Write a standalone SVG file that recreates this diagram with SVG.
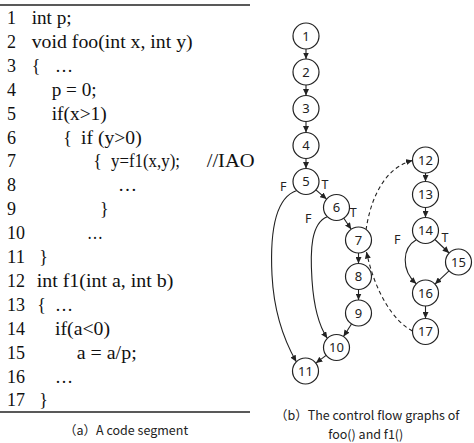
<svg xmlns="http://www.w3.org/2000/svg" width="474" height="443" viewBox="0 0 474 443">
<style>
.code{font-family:"Liberation Serif","Times New Roman",serif;font-size:18px;fill:#111}
.num{font-family:"Liberation Serif","Times New Roman",serif;font-size:18px;fill:#111}
.cap{font-family:"Noto Sans CJK SC","Noto Sans",sans-serif;font-size:12.5px;fill:#222}
.node circle{fill:#fff;stroke:#222;stroke-width:1.2}
.node text{font-family:"Noto Sans","Liberation Sans",sans-serif;font-size:13px;fill:#222;text-anchor:middle}
.lbl{font-family:"Noto Sans","Liberation Sans",sans-serif;font-size:12.5px;fill:#222;text-anchor:middle}
.e{fill:none;stroke:#222;stroke-width:1.1;marker-end:url(#ah)}
.d{stroke-dasharray:4 3}
.rule{stroke:#222;stroke-width:1.6}
</style>
<defs>
<marker id="ah" markerUnits="userSpaceOnUse" markerWidth="7" markerHeight="6" refX="6.5" refY="3" orient="auto">
<path d="M0,0 L6.5,3 L0,6 z" fill="#222"/>
</marker>
</defs>
<rect width="474" height="443" fill="#fff"/>

<g id="code">
<line class="rule" x1="0" y1="5" x2="250" y2="5"/>
<line class="rule" x1="0" y1="412" x2="250" y2="412"/>
<text class="num" x="7" y="24">1</text>
<text class="code" x="31.7" y="24" textLength="40" lengthAdjust="spacingAndGlyphs">int p;</text>
<text class="num" x="7" y="47.9">2</text>
<text class="code" x="31.7" y="47.9" textLength="161" lengthAdjust="spacingAndGlyphs">void foo(int x, int y)</text>
<text class="num" x="7" y="71.8">3</text>
<text class="code" x="31.7" y="71.8">{</text>
<text class="code" x="55" y="71.8" textLength="18" lengthAdjust="spacingAndGlyphs">…</text>
<text class="num" x="7" y="95.7">4</text>
<text class="code" x="51.7" y="95.7" textLength="45" lengthAdjust="spacingAndGlyphs">p = 0;</text>
<text class="num" x="7" y="119.6">5</text>
<text class="code" x="51.7" y="119.6" textLength="55" lengthAdjust="spacingAndGlyphs">if(x&gt;1)</text>
<text class="num" x="7" y="143.5">6</text>
<text class="code" x="63.3" y="143.5">{</text>
<text class="code" x="81" y="143.5" textLength="60.7" lengthAdjust="spacingAndGlyphs">if (y&gt;0)</text>
<text class="num" x="7" y="167.4">7</text>
<text class="code" x="93.3" y="167.4">{</text>
<text class="code" x="111" y="167.4" textLength="69" lengthAdjust="spacingAndGlyphs">y=f1(x,y);</text>
<text class="code" x="206.7" y="167.4" textLength="48" lengthAdjust="spacingAndGlyphs">//IAO</text>
<text class="num" x="7" y="191.3">8</text>
<text class="code" x="118" y="191.3" textLength="19" lengthAdjust="spacingAndGlyphs">…</text>
<text class="num" x="7" y="215.2">9</text>
<text class="code" x="100" y="215.2">}</text>
<text class="num" x="7" y="239.1" textLength="18" lengthAdjust="spacingAndGlyphs">10</text>
<text class="code" x="87" y="239.1" textLength="16" lengthAdjust="spacingAndGlyphs">…</text>
<text class="num" x="7" y="263" textLength="18" lengthAdjust="spacingAndGlyphs">11</text>
<text class="code" x="39.3" y="263">}</text>
<text class="num" x="7" y="286.9" textLength="18" lengthAdjust="spacingAndGlyphs">12</text>
<text class="code" x="36.7" y="286.9" textLength="136.6" lengthAdjust="spacingAndGlyphs">int f1(int a, int b)</text>
<text class="num" x="7" y="310.8" textLength="18" lengthAdjust="spacingAndGlyphs">13</text>
<text class="code" x="37.3" y="310.8">{</text>
<text class="code" x="55" y="310.8" textLength="18" lengthAdjust="spacingAndGlyphs">…</text>
<text class="num" x="7" y="334.7" textLength="18" lengthAdjust="spacingAndGlyphs">14</text>
<text class="code" x="55" y="334.7" textLength="55" lengthAdjust="spacingAndGlyphs">if(a&lt;0)</text>
<text class="num" x="7" y="358.6" textLength="18" lengthAdjust="spacingAndGlyphs">15</text>
<text class="code" x="76.7" y="358.6" textLength="60" lengthAdjust="spacingAndGlyphs">a = a/p;</text>
<text class="num" x="7" y="382.5" textLength="18" lengthAdjust="spacingAndGlyphs">16</text>
<text class="code" x="55" y="382.5" textLength="18" lengthAdjust="spacingAndGlyphs">…</text>
<text class="num" x="7" y="406.4" textLength="18" lengthAdjust="spacingAndGlyphs">17</text>
<text class="code" x="39.3" y="406.4">}</text>
<text class="cap" x="64" y="434.5">（a）A code segment</text>
</g>

<g id="connectors">
<path class="e" d="M306,49 L306,59"/>
<path class="e" d="M306,85 L306,95.5"/>
<path class="e" d="M306,121.5 L306,132.5"/>
<path class="e" d="M306,158.5 L306,168.5"/>
<path class="e" d="M315.9,189.9 L326.6,199.1"/>
<path class="e" d="M343.8,218.3 L351.2,229.2"/>
<path class="e" d="M358.5,253 L358.5,263.5"/>
<path class="e" d="M358.5,289.5 L358.5,300"/>
<path class="e" d="M351.5,324 L343.5,336.5"/>
<path class="e" d="M326.1,355.4 L315.9,363.1"/>
<path class="e" d="M425.5,173 L425.5,181.5"/>
<path class="e" d="M425.5,207.5 L425.5,217.5"/>
<path class="e" d="M434.9,239.5 L449.1,253"/>
<path class="e" d="M449,270.9 L435,284.1"/>
<path class="e" d="M425.5,306 L425.5,318.5"/>
<path class="e" d="M296.8,190.5 C274,198 270,235 272,275 C274,315 285,342 296.3,361.8"/>
<path class="e" d="M327.3,216.7 C311,223 310,250 312,280 C314,310 319,326 327.3,338.3"/>
<path class="e" d="M416.3,239.7 C402,248 401,270 416.3,283.8"/>
<path class="e d" d="M366,230 C371,196 386,167 412.5,160.5"/>
<path class="e d" d="M412.5,331 C393,321 375,292 366.5,252"/>
</g>

<g id="labels">
<text class="lbl" x="283.3" y="190.5">F</text>
<text class="lbl" x="325" y="189">T</text>
<text class="lbl" x="308.3" y="222.5">F</text>
<text class="lbl" x="353.3" y="216.5">T</text>
<text class="lbl" x="397.3" y="244">F</text>
<text class="lbl" x="445" y="241.5">T</text>
</g>

<g id="n1" class="node"><circle cx="306" cy="36" r="13"/><text x="306" y="40.5">1</text></g>
<g id="n2" class="node"><circle cx="306" cy="72" r="13"/><text x="306" y="76.5">2</text></g>
<g id="n3" class="node"><circle cx="306" cy="108.5" r="13"/><text x="306" y="113">3</text></g>
<g id="n4" class="node"><circle cx="306" cy="145.5" r="13"/><text x="306" y="150">4</text></g>
<g id="n5" class="node"><circle cx="306" cy="181.5" r="13"/><text x="306" y="186">5</text></g>
<g id="n6" class="node"><circle cx="336.5" cy="207.5" r="13"/><text x="336.5" y="212">6</text></g>
<g id="n7" class="node"><circle cx="358.5" cy="240" r="13"/><text x="358.5" y="244.5">7</text></g>
<g id="n8" class="node"><circle cx="358.5" cy="276.5" r="13"/><text x="358.5" y="281">8</text></g>
<g id="n9" class="node"><circle cx="358.5" cy="313" r="13"/><text x="358.5" y="317.5">9</text></g>
<g id="n10" class="node"><circle cx="336.5" cy="347.5" r="13"/><text x="336.5" y="352">10</text></g>
<g id="n11" class="node"><circle cx="305.5" cy="371" r="13"/><text x="305.5" y="375.5">11</text></g>
<g id="n12" class="node"><circle cx="425.5" cy="160" r="13"/><text x="425.5" y="164.5">12</text></g>
<g id="n13" class="node"><circle cx="425.5" cy="194.5" r="13"/><text x="425.5" y="199">13</text></g>
<g id="n14" class="node"><circle cx="425.5" cy="230.5" r="13"/><text x="425.5" y="235">14</text></g>
<g id="n15" class="node"><circle cx="458.5" cy="262" r="13"/><text x="458.5" y="266.5">15</text></g>
<g id="n16" class="node"><circle cx="425.5" cy="293" r="13"/><text x="425.5" y="297.5">16</text></g>
<g id="n17" class="node"><circle cx="425.5" cy="331.5" r="13"/><text x="425.5" y="336">17</text></g>

<g id="caption-b">
<text class="cap" x="275" y="420">（b）The control flow graphs of</text>
<text class="cap" x="328.3" y="438.5">foo() and f1()</text>
</g>
</svg>
